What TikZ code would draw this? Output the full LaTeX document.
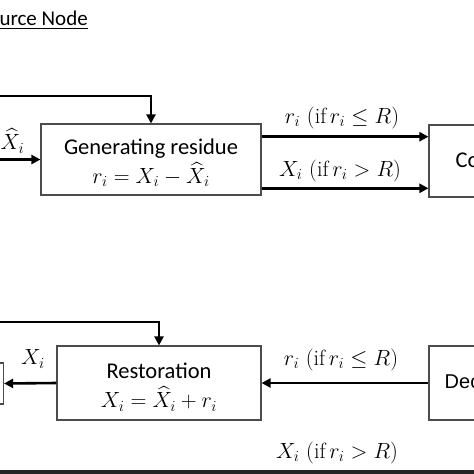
\RequirePackage{fix-cm}
\documentclass[tikz,border=0pt]{standalone}
\usepackage{amsmath}
\usepackage{fontspec}
\newfontfamily\carl{Carlito}
\newfontfamily\arialf{Liberation Sans}
\usetikzlibrary{arrows.meta,calc}
\newcommand{\topstrut}{\rule{0pt}{22pt}}
\begin{document}
\begin{tikzpicture}[x=1pt,y=-1pt,
  box/.style={draw=black!70,line width=1.1pt,rectangle,inner sep=0pt,align=center},
  arr/.style={line width=2.6pt,-{Triangle[length=9pt,width=9pt]}},
  lbl/.style={inner sep=0pt,font=\fontsize{22}{26}\selectfont},
  boxtxt/.style={font=\carl\fontsize{22.5}{29}\selectfont}]
\useasboundingbox (0,0) rectangle (474,474);
\clip (0,0) rectangle (474,474);
% title
\node[anchor=base east,inner sep=0pt,font=\carl\fontsize{21}{24}\selectfont] (title) at (88,25) {\underline{Source Node}};
% boxes
\node[box,minimum width=220pt,minimum height=71pt,boxtxt] (gen) at (151,159.5)
  {\topstrut Generating residue\\ {\fontsize{22}{26}\selectfont$r_i = X_i - \widehat{X}_i$}};
\node[box,minimum width=170pt,minimum height=72pt] (comp) at (514,161) {};
\node[anchor=west,inner sep=0pt,boxtxt] (comptxt) at (455.5,162) {Compression};
\node[box,minimum width=204pt,minimum height=74pt,boxtxt] (rest) at (159,383)
  {\rule{0pt}{24pt}Restoration\\ {\fontsize{22}{26}\selectfont$X_i = \widehat{X}_i + r_i$}};
\node[box,minimum width=170pt,minimum height=74pt] (dec) at (514,383) {};
\node[anchor=west,inner sep=0pt,font=\arialf\fontsize{20}{23}\selectfont] (dectxt) at (444.5,383) {Decompression};
\node[box,minimum width=60pt,minimum height=41pt] (out) at (-26.5,383.5) {};
% free ends
\coordinate (fbs1) at (-5,96);
\coordinate (ins) at (-5,159.5);
\coordinate (fbs2) at (-5,322);
\coordinate (g1) at ($(gen.east)+(0,-22.8)$);
\coordinate (g2) at ($(gen.east)+(0,28.8)$);
% connectors
\draw[arr] (fbs1) -| (gen.north);
\draw[arr] (ins) -- (gen.west);
\draw[arr] (g1) -- (g1 -| comp.west);
\draw[arr] (g2) -- (g2 -| comp.west);
\draw[arr] (fbs2) -| (rest.north);
\draw[arr] (dec.west) -- (rest.east);
\draw[arr] (rest.west) -- (out.east);
% bottom band
\fill[black!85] (-5,469.5) rectangle (480,480);
% labels
\node[lbl] (l1) at (12.5,141) {$\widehat{X}_i$};
\node[lbl] (l2) at (342,118) {$r_i~(\mathrm{if}\,r_i \le R)$};
\node[lbl] (l3) at (340,171) {$X_i~(\mathrm{if}\,r_i > R)$};
\node[lbl] (l4) at (33,359) {$X_i$};
\node[lbl] (l5) at (341,360) {$r_i~(\mathrm{if}\,r_i \le R)$};
\node[lbl] (l6) at (337,453) {$X_i~(\mathrm{if}\,r_i > R)$};
\end{tikzpicture}
\end{document}
